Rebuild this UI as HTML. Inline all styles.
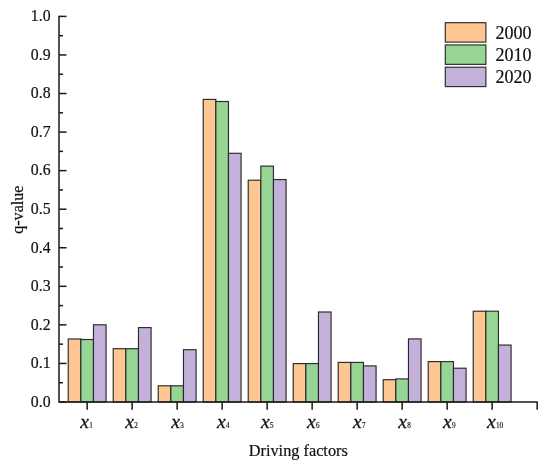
<!DOCTYPE html>
<html><head><meta charset="utf-8"><title>q-value chart</title>
<style>
html,body{margin:0;padding:0;background:#fff;}
body{width:550px;height:470px;overflow:hidden;}
svg{display:block;}
text{font-family:"Liberation Serif","Times New Roman",serif;fill:#111;stroke:#111;stroke-width:0.2px;}
.tk{font-size:15.8px;text-anchor:end;}
.lg{font-size:18px;}
.xl{font-size:19.6px;font-style:italic;stroke-width:0.3px;}
.sub{font-size:7.2px;font-style:normal;stroke-width:0.15px;}
.ax{font-size:16.3px;}
</style></head><body>
<svg width="550" height="470" viewBox="0 0 550 470">
<rect width="550" height="470" fill="#fff"/>

<g stroke="#2a2a2a" stroke-width="1.15">
<rect x="68.22" y="339.00" width="12.62" height="63.00" fill="#FDC692"/>
<rect x="80.84" y="339.50" width="12.62" height="62.50" fill="#97D595"/>
<rect x="93.46" y="324.80" width="12.62" height="77.20" fill="#C3B1DB"/>
<rect x="113.22" y="348.70" width="12.62" height="53.30" fill="#FDC692"/>
<rect x="125.84" y="348.70" width="12.62" height="53.30" fill="#97D595"/>
<rect x="138.46" y="327.60" width="12.62" height="74.40" fill="#C3B1DB"/>
<rect x="158.22" y="385.80" width="12.62" height="16.20" fill="#FDC692"/>
<rect x="170.84" y="385.80" width="12.62" height="16.20" fill="#97D595"/>
<rect x="183.46" y="349.70" width="12.62" height="52.30" fill="#C3B1DB"/>
<rect x="203.22" y="99.40" width="12.62" height="302.60" fill="#FDC692"/>
<rect x="215.84" y="101.50" width="12.62" height="300.50" fill="#97D595"/>
<rect x="228.46" y="153.30" width="12.62" height="248.70" fill="#C3B1DB"/>
<rect x="248.22" y="180.20" width="12.62" height="221.80" fill="#FDC692"/>
<rect x="260.84" y="166.10" width="12.62" height="235.90" fill="#97D595"/>
<rect x="273.46" y="179.60" width="12.62" height="222.40" fill="#C3B1DB"/>
<rect x="293.22" y="363.60" width="12.62" height="38.40" fill="#FDC692"/>
<rect x="305.84" y="363.60" width="12.62" height="38.40" fill="#97D595"/>
<rect x="318.46" y="312.00" width="12.62" height="90.00" fill="#C3B1DB"/>
<rect x="338.22" y="362.40" width="12.62" height="39.60" fill="#FDC692"/>
<rect x="350.84" y="362.40" width="12.62" height="39.60" fill="#97D595"/>
<rect x="363.46" y="365.90" width="12.62" height="36.10" fill="#C3B1DB"/>
<rect x="383.22" y="379.70" width="12.62" height="22.30" fill="#FDC692"/>
<rect x="395.84" y="378.90" width="12.62" height="23.10" fill="#97D595"/>
<rect x="408.46" y="338.90" width="12.62" height="63.10" fill="#C3B1DB"/>
<rect x="428.22" y="361.60" width="12.62" height="40.40" fill="#FDC692"/>
<rect x="440.84" y="361.60" width="12.62" height="40.40" fill="#97D595"/>
<rect x="453.46" y="368.20" width="12.62" height="33.80" fill="#C3B1DB"/>
<rect x="473.22" y="311.20" width="12.62" height="90.80" fill="#FDC692"/>
<rect x="485.84" y="311.20" width="12.62" height="90.80" fill="#97D595"/>
<rect x="498.46" y="345.05" width="12.62" height="56.95" fill="#C3B1DB"/>
</g>
<g stroke="#1a1a1a" stroke-width="1.5" fill="none">
<path d="M59.0 15.70V402.0H537.75"/>
<path d="M59.0 402.00h7.5"/>
<path d="M59.0 382.72h4"/>
<path d="M59.0 363.44h7.5"/>
<path d="M59.0 344.16h4"/>
<path d="M59.0 324.88h7.5"/>
<path d="M59.0 305.60h4"/>
<path d="M59.0 286.32h7.5"/>
<path d="M59.0 267.04h4"/>
<path d="M59.0 247.76h7.5"/>
<path d="M59.0 228.48h4"/>
<path d="M59.0 209.20h7.5"/>
<path d="M59.0 189.92h4"/>
<path d="M59.0 170.64h7.5"/>
<path d="M59.0 151.36h4"/>
<path d="M59.0 132.08h7.5"/>
<path d="M59.0 112.80h4"/>
<path d="M59.0 93.52h7.5"/>
<path d="M59.0 74.24h4"/>
<path d="M59.0 54.96h7.5"/>
<path d="M59.0 35.68h4"/>
<path d="M59.0 16.40h7.5"/>
<path d="M87.15 402.0v7.8"/>
<path d="M132.15 402.0v7.8"/>
<path d="M177.15 402.0v7.8"/>
<path d="M222.15 402.0v7.8"/>
<path d="M267.15 402.0v7.8"/>
<path d="M312.15 402.0v7.8"/>
<path d="M357.15 402.0v7.8"/>
<path d="M402.15 402.0v7.8"/>
<path d="M447.15 402.0v7.8"/>
<path d="M492.15 402.0v7.8"/>
<path d="M537.15 402.0v7.8"/>
</g>
<text class="tk" x="50.6" y="406.80">0.0</text>
<text class="tk" x="50.6" y="368.24">0.1</text>
<text class="tk" x="50.6" y="329.68">0.2</text>
<text class="tk" x="50.6" y="291.12">0.3</text>
<text class="tk" x="50.6" y="252.56">0.4</text>
<text class="tk" x="50.6" y="214.00">0.5</text>
<text class="tk" x="50.6" y="175.44">0.6</text>
<text class="tk" x="50.6" y="136.88">0.7</text>
<text class="tk" x="50.6" y="98.32">0.8</text>
<text class="tk" x="50.6" y="59.76">0.9</text>
<text class="tk" x="50.6" y="21.20">1.0</text>
<text class="xl" x="80.2" y="428">x<tspan class="sub" dx="0.3">1</tspan></text>
<text class="xl" x="125.3" y="428">x<tspan class="sub" dx="0.3">2</tspan></text>
<text class="xl" x="171.3" y="428">x<tspan class="sub" dx="0.3">3</tspan></text>
<text class="xl" x="217.0" y="428">x<tspan class="sub" dx="0.3">4</tspan></text>
<text class="xl" x="260.9" y="428">x<tspan class="sub" dx="0.3">5</tspan></text>
<text class="xl" x="307.0" y="428">x<tspan class="sub" dx="0.3">6</tspan></text>
<text class="xl" x="353.1" y="428">x<tspan class="sub" dx="0.3">7</tspan></text>
<text class="xl" x="398.2" y="428">x<tspan class="sub" dx="0.3">8</tspan></text>
<text class="xl" x="443.1" y="428">x<tspan class="sub" dx="0.3">9</tspan></text>
<text class="xl" x="487.0" y="428">x<tspan class="sub" dx="0.3">10</tspan></text>
<text class="ax" x="298.3" y="456.2" text-anchor="middle">Driving factors</text>
<text class="ax" transform="translate(23.4 209.7) rotate(-90)" text-anchor="middle" style="font-size:16.1px">q-value</text>
<rect x="445.3" y="22.70" width="40.6" height="19.4" fill="#FDC692" stroke="#2a2a2a" stroke-width="1.15"/>
<text class="lg" x="495.5" y="38.80">2000</text>
<rect x="445.3" y="44.95" width="40.6" height="19.4" fill="#97D595" stroke="#2a2a2a" stroke-width="1.15"/>
<text class="lg" x="495.5" y="61.05">2010</text>
<rect x="445.3" y="67.20" width="40.6" height="19.4" fill="#C3B1DB" stroke="#2a2a2a" stroke-width="1.15"/>
<text class="lg" x="495.5" y="83.30">2020</text>
</svg></body></html>
